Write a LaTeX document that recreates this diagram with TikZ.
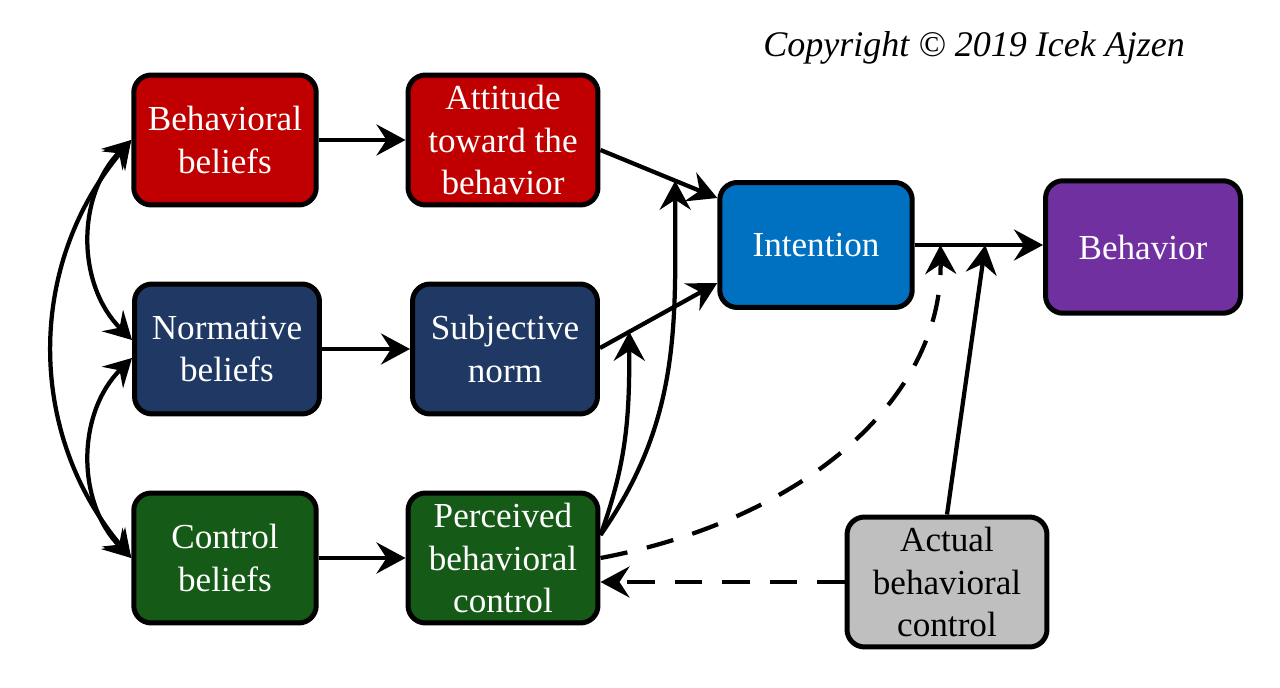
\documentclass[tikz,border=0pt]{standalone}
\usepackage{fontspec}
\setmainfont{Liberation Serif}
\usetikzlibrary{calc}
\usetikzlibrary{arrows.meta}

\definecolor{bbred}{HTML}{C00000}
\definecolor{nbblue}{HTML}{1F3864}
\definecolor{cbgreen}{HTML}{155A17}
\definecolor{intblue}{HTML}{0070C0}
\definecolor{behpurple}{HTML}{7030A0}
\definecolor{abcgray}{HTML}{BFBFBF}

\begin{document}
\begin{tikzpicture}[x=0.02cm, y=-0.02cm,
    box/.style={draw=black, line width=0.1cm, rounded corners=0.35cm, align=center,
        minimum height=2.6cm, text=white, font=\fontsize{20}{24}\selectfont},
    arr/.style={-{Stealth[length=0.58cm, width=0.62cm, inset=0.2cm]}, line width=0.085cm},
    biarr/.style={{Stealth[length=0.55cm, width=0.6cm, inset=0.2cm]}-{Stealth[length=0.55cm, width=0.6cm, inset=0.2cm]}, line width=0.085cm},
    dsh/.style={dash pattern=on 0.55cm off 0.4cm}]
    \useasboundingbox (0,0) rectangle (1280,688);

    \node [box, fill=bbred, minimum width=3.65cm] (BB) at (225,140) {Behavioral\\beliefs};
    \node [box, fill=bbred, minimum width=3.8cm] (AT) at (503,140) {Attitude\\toward the\\behavior};
    \node [box, fill=nbblue, minimum width=3.7cm] (NB) at (227,349) {Normative\\beliefs};
    \node [box, fill=nbblue, minimum width=3.7cm] (SN) at (505,349) {Subjective\\norm};
    \node [box, fill=cbgreen, minimum width=3.65cm] (CB) at (225,558) {Control\\beliefs};
    \node [box, fill=cbgreen, minimum width=3.8cm] (PBC) at (503,558) {Perceived\\behavioral\\control};
    \node [box, fill=intblue, minimum width=3.85cm, minimum height=2.5cm] (INT) at (816,245) {Intention};
    \node [box, fill=behpurple, minimum width=3.9cm, minimum height=2.65cm] (BEH) at (1143,247) {Behavior};
    \node [box, fill=abcgray, text=black, minimum width=4.0cm] (ABC) at (947,582) {Actual\\behavioral\\control};

    \node (COPY) at (974,48) {\fontsize{20.5}{24}\selectfont\itshape Copyright © 2019 Icek Ajzen};

    \coordinate (A1) at ($(AT.east)+(0,10)$);
    \coordinate (I1) at ($(INT.west)+(0,-47)$);
    \coordinate (S1) at ($(SN.east)+(0,-1)$);
    \coordinate (I2) at ($(INT.west)+(0,38)$);
    \coordinate (P0) at ($(PBC.east)+(0,-23)$);
    \coordinate (M1) at ($(A1)!0.64!(I1)$);
    \coordinate (M2) at ($(S1)!0.25!(I2)$);
    \coordinate (IB) at (INT.east -| BEH.west);
    \coordinate (M3) at ($(INT.east)!0.2!(IB)$);
    \coordinate (M4) at ($(INT.east)!0.55!(IB)$);

    \draw[arr] (BB) -- (AT);
    \draw[arr] (NB) -- (SN);
    \draw[arr] (CB) -- (PBC);
    \draw[arr] (A1) -- (I1);
    \draw[arr] (S1) -- (I2);
    \draw[arr] (INT.east) -- (IB);

    \draw[biarr] (BB.west) to[bend right=45] ($(NB.west)+(0,-9)$);
    \draw[biarr] ($(NB.west)+(0,9)$) to[bend right=45] (CB.west);
    \draw[biarr] (BB.west) to[bend right=40] (CB.west);

    \draw[arr] (P0) to[out=55, in=-90] (M1);
    \draw[arr] (P0) to[out=70, in=-90] (M2);

    \draw[arr, dsh] (PBC.east) .. controls ($(PBC.east)+(202,-38)$) and ($(M3)+(2,155)$) .. (M3);
    \draw[arr, dsh] (ABC.west) -- (ABC.west -| PBC.east);
    \draw[arr] (ABC.north) -- (M4);
\end{tikzpicture}
\end{document}
